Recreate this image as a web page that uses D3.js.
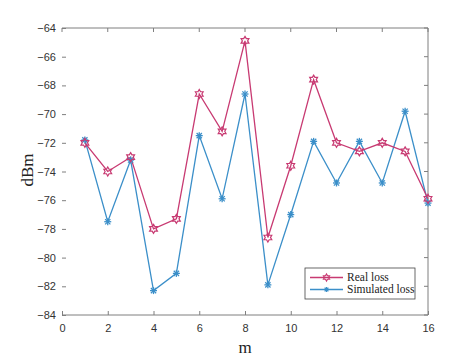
<!DOCTYPE html>
<html><head><meta charset="utf-8">
<script src="https://cdn.jsdelivr.net/npm/d3@7/dist/d3.min.js"></script>
<style>body{margin:0;background:#fff}svg{display:block}</style>
</head><body>
<script>
const mValues = [1,2,3,4,5,6,7,8,9,10,11,12,13,14,15,16];
const realLoss = [-72.0,-74.0,-73.0,-78.0,-77.3,-68.6,-71.2,-64.9,-78.6,-73.6,-67.6,-72.0,-72.6,-72.0,-72.6,-75.9];
const simulatedLoss = [-71.8,-77.5,-73.2,-82.3,-81.1,-71.5,-75.9,-68.6,-81.9,-77.0,-71.9,-74.8,-71.9,-74.8,-69.8,-76.2];
const xTicks = [0,2,4,6,8,10,12,14,16];
const yTicks = [-84,-82,-80,-78,-76,-74,-72,-70,-68,-66,-64];
const seriesNames = ["Real loss","Simulated loss"];

const W=474,H=359;
const L=62,R=428,T=28,B=315;
const red="#c83a72", blue="#3b8fc9", axisCol="#7f7f7f", txt="#333";
const svg=d3.select("body").append("svg").attr("width",W).attr("height",H);
const x=d3.scaleLinear().domain([0,16]).range([L,R]);
const y=d3.scaleLinear().domain([-84,-64]).range([B,T]);

const g=svg.append("g");
g.append("line").attr("x1",L).attr("x2",R).attr("y1",T).attr("y2",T).attr("stroke",axisCol);
g.append("line").attr("x1",R).attr("x2",R).attr("y1",T).attr("y2",B).attr("stroke",axisCol);
g.append("line").attr("x1",L).attr("x2",R).attr("y1",B).attr("y2",B).attr("stroke",axisCol);

const xa=svg.append("g").attr("transform",`translate(0,${B})`)
  .call(d3.axisBottom(x).tickValues(xTicks).tickSize(-4).tickPadding(9).tickFormat(d3.format("d")));
xa.select(".domain").remove();
xa.selectAll("line").attr("stroke",axisCol);
xa.selectAll("text").attr("fill",txt).style("font-family","Liberation Sans, Arial").style("font-size","11px");
svg.append("g").selectAll("line").data(xTicks).join("line")
  .attr("x1",d=>x(d)).attr("x2",d=>x(d)).attr("y1",T).attr("y2",T+4).attr("stroke",axisCol);

const ya=svg.append("g").attr("transform",`translate(${L},0)`)
  .call(d3.axisLeft(y).tickValues(yTicks).tickSize(-4).tickPadding(6).tickFormat(d3.format("d")));
ya.select(".domain").remove();
ya.selectAll("line").attr("stroke",axisCol);
ya.selectAll("text").attr("fill",txt).style("font-family","Liberation Sans, Arial").style("font-size","11px");
svg.append("g").selectAll("line").data(yTicks).join("line")
  .attr("x1",R-4).attr("x2",R).attr("y1",d=>y(d)).attr("y2",d=>y(d)).attr("stroke",axisCol);

svg.append("text").attr("x",(L+R)/2).attr("y",353).attr("text-anchor","middle")
  .style("font-family","Liberation Serif, Times New Roman").style("font-size","17px").attr("fill","#222").text("m");
svg.append("text").attr("transform","translate(33,170) rotate(-90)").attr("text-anchor","middle")
  .style("font-family","Liberation Serif, Times New Roman").style("font-size","17px").attr("fill","#222").text("dBm");

const line=d3.line().x((d,i)=>x(mValues[i])).y(d=>y(d));
function hexagram(sel,cx,cy,r,col){
  const pts=[];
  for(let k=0;k<12;k++){const a=-Math.PI/2+k*Math.PI/6;const rr=k%2===0?r:r*0.58;pts.push([cx+rr*Math.cos(a),cy+rr*Math.sin(a)]);}
  sel.append("polygon").attr("points",pts.map(p=>p.join(",")).join(" ")).attr("fill","none").attr("stroke",col).attr("stroke-width",1.2);
}
function asterisk(sel,cx,cy,r,col){
  const gg=sel.append("g").attr("stroke",col).attr("stroke-width",1.3);
  gg.append("line").attr("x1",cx-r).attr("x2",cx+r).attr("y1",cy).attr("y2",cy);
  gg.append("line").attr("x1",cx).attr("x2",cx).attr("y1",cy-r).attr("y2",cy+r);
  const q=r*0.75;
  gg.append("line").attr("x1",cx-q).attr("x2",cx+q).attr("y1",cy-q).attr("y2",cy+q);
  gg.append("line").attr("x1",cx-q).attr("x2",cx+q).attr("y1",cy+q).attr("y2",cy-q);
}
svg.append("path").datum(simulatedLoss).attr("d",line).attr("fill","none").attr("stroke",blue).attr("stroke-width",1.3);
svg.append("path").datum(realLoss).attr("d",line).attr("fill","none").attr("stroke",red).attr("stroke-width",1.3);
const mk=svg.append("g");
simulatedLoss.forEach((v,i)=>asterisk(mk,x(mValues[i]),y(v),3.5,blue));
realLoss.forEach((v,i)=>hexagram(mk,x(mValues[i]),y(v),4.5,red));

const lg=svg.append("g");
lg.append("rect").attr("x",305).attr("y",268).attr("width",110).attr("height",31).attr("fill","#fff").attr("stroke","#444").attr("stroke-width",0.8);
const rows=[{n:seriesNames[0],c:red,y:277.5,m:"h"},{n:seriesNames[1],c:blue,y:289.5,m:"a"}];
rows.forEach(r=>{
  lg.append("line").attr("x1",310).attr("x2",343).attr("y1",r.y).attr("y2",r.y).attr("stroke",r.c).attr("stroke-width",1.3);
  if(r.m==="h")hexagram(lg,326.5,r.y,3.5,r.c);else asterisk(lg,326.5,r.y,2.5,r.c);
  lg.append("text").attr("x",347).attr("y",r.y+3.8).style("font-family","Liberation Serif, Times New Roman").style("font-size","11.5px").attr("fill","#222").text(r.n);
});
</script>
</body></html>
